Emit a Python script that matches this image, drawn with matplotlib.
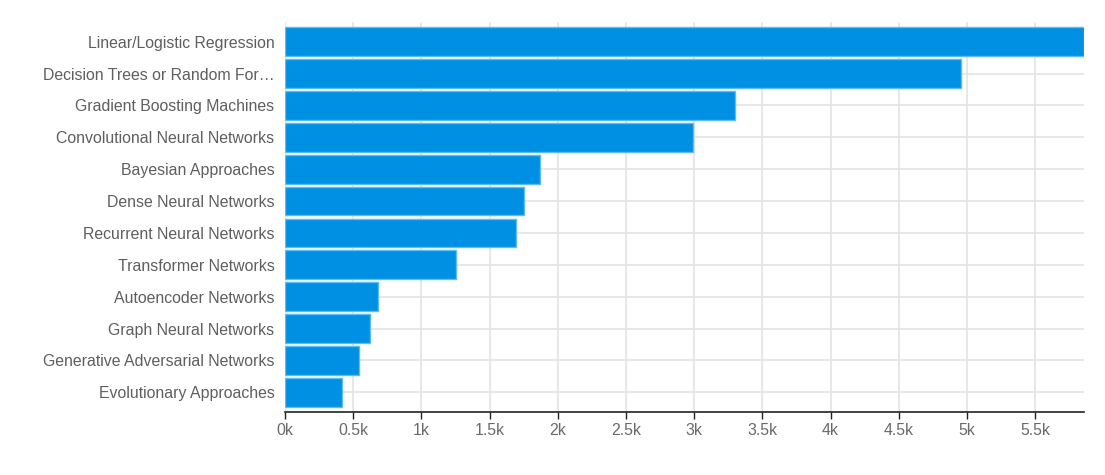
import matplotlib.pyplot as plt
from matplotlib.ticker import FuncFormatter, MultipleLocator

categories = [
    'Linear/Logistic Regression',
    'Decision Trees or Random For\u2026',
    'Gradient Boosting Machines',
    'Convolutional Neural Networks',
    'Bayesian Approaches',
    'Dense Neural Networks',
    'Recurrent Neural Networks',
    'Transformer Networks',
    'Autoencoder Networks',
    'Graph Neural Networks',
    'Generative Adversarial Networks',
    'Evolutionary Approaches',
]
counts = [5858, 4954, 3297, 2991, 1867, 1752, 1697, 1254, 681, 626, 542, 419]

plt.rcParams['font.family'] = ['Liberation Sans', 'DejaVu Sans']

fig = plt.figure(figsize=(11.05, 4.75), dpi=100)
ax = fig.add_axes([285 / 1105, 63 / 475, 799 / 1105, 390 / 475])

ypos = list(range(len(categories)))
ax.barh(ypos, counts, height=0.9, color='#0090e3', edgecolor='#5bbcf2',
        linewidth=1, zorder=3)

ax.set_xlim(0, max(counts))
ax.set_ylim(len(categories) - 0.5 + 0.12, -0.5 - 0.12)
ax.set_yticks(ypos)
ax.set_yticklabels(categories)

ax.xaxis.set_major_locator(MultipleLocator(500))
ax.xaxis.set_major_formatter(FuncFormatter(lambda v, p: '%gk' % (v / 1000)))

ax.grid(True, color='#e3e3e3', linewidth=1.2, zorder=0)
for s in ['top', 'right', 'left']:
    ax.spines[s].set_visible(False)
ax.spines['bottom'].set_color('#222222')
ax.spines['bottom'].set_linewidth(1.2)

ax.tick_params(axis='y', length=0, pad=7.5, labelsize=11.4, labelcolor='#5f5f5f')
ax.tick_params(axis='x', length=5, width=1, color='#222222', pad=3,
               labelsize=11.4, labelcolor='#6a6a6a')

fig.savefig('out.png', dpi=100)
